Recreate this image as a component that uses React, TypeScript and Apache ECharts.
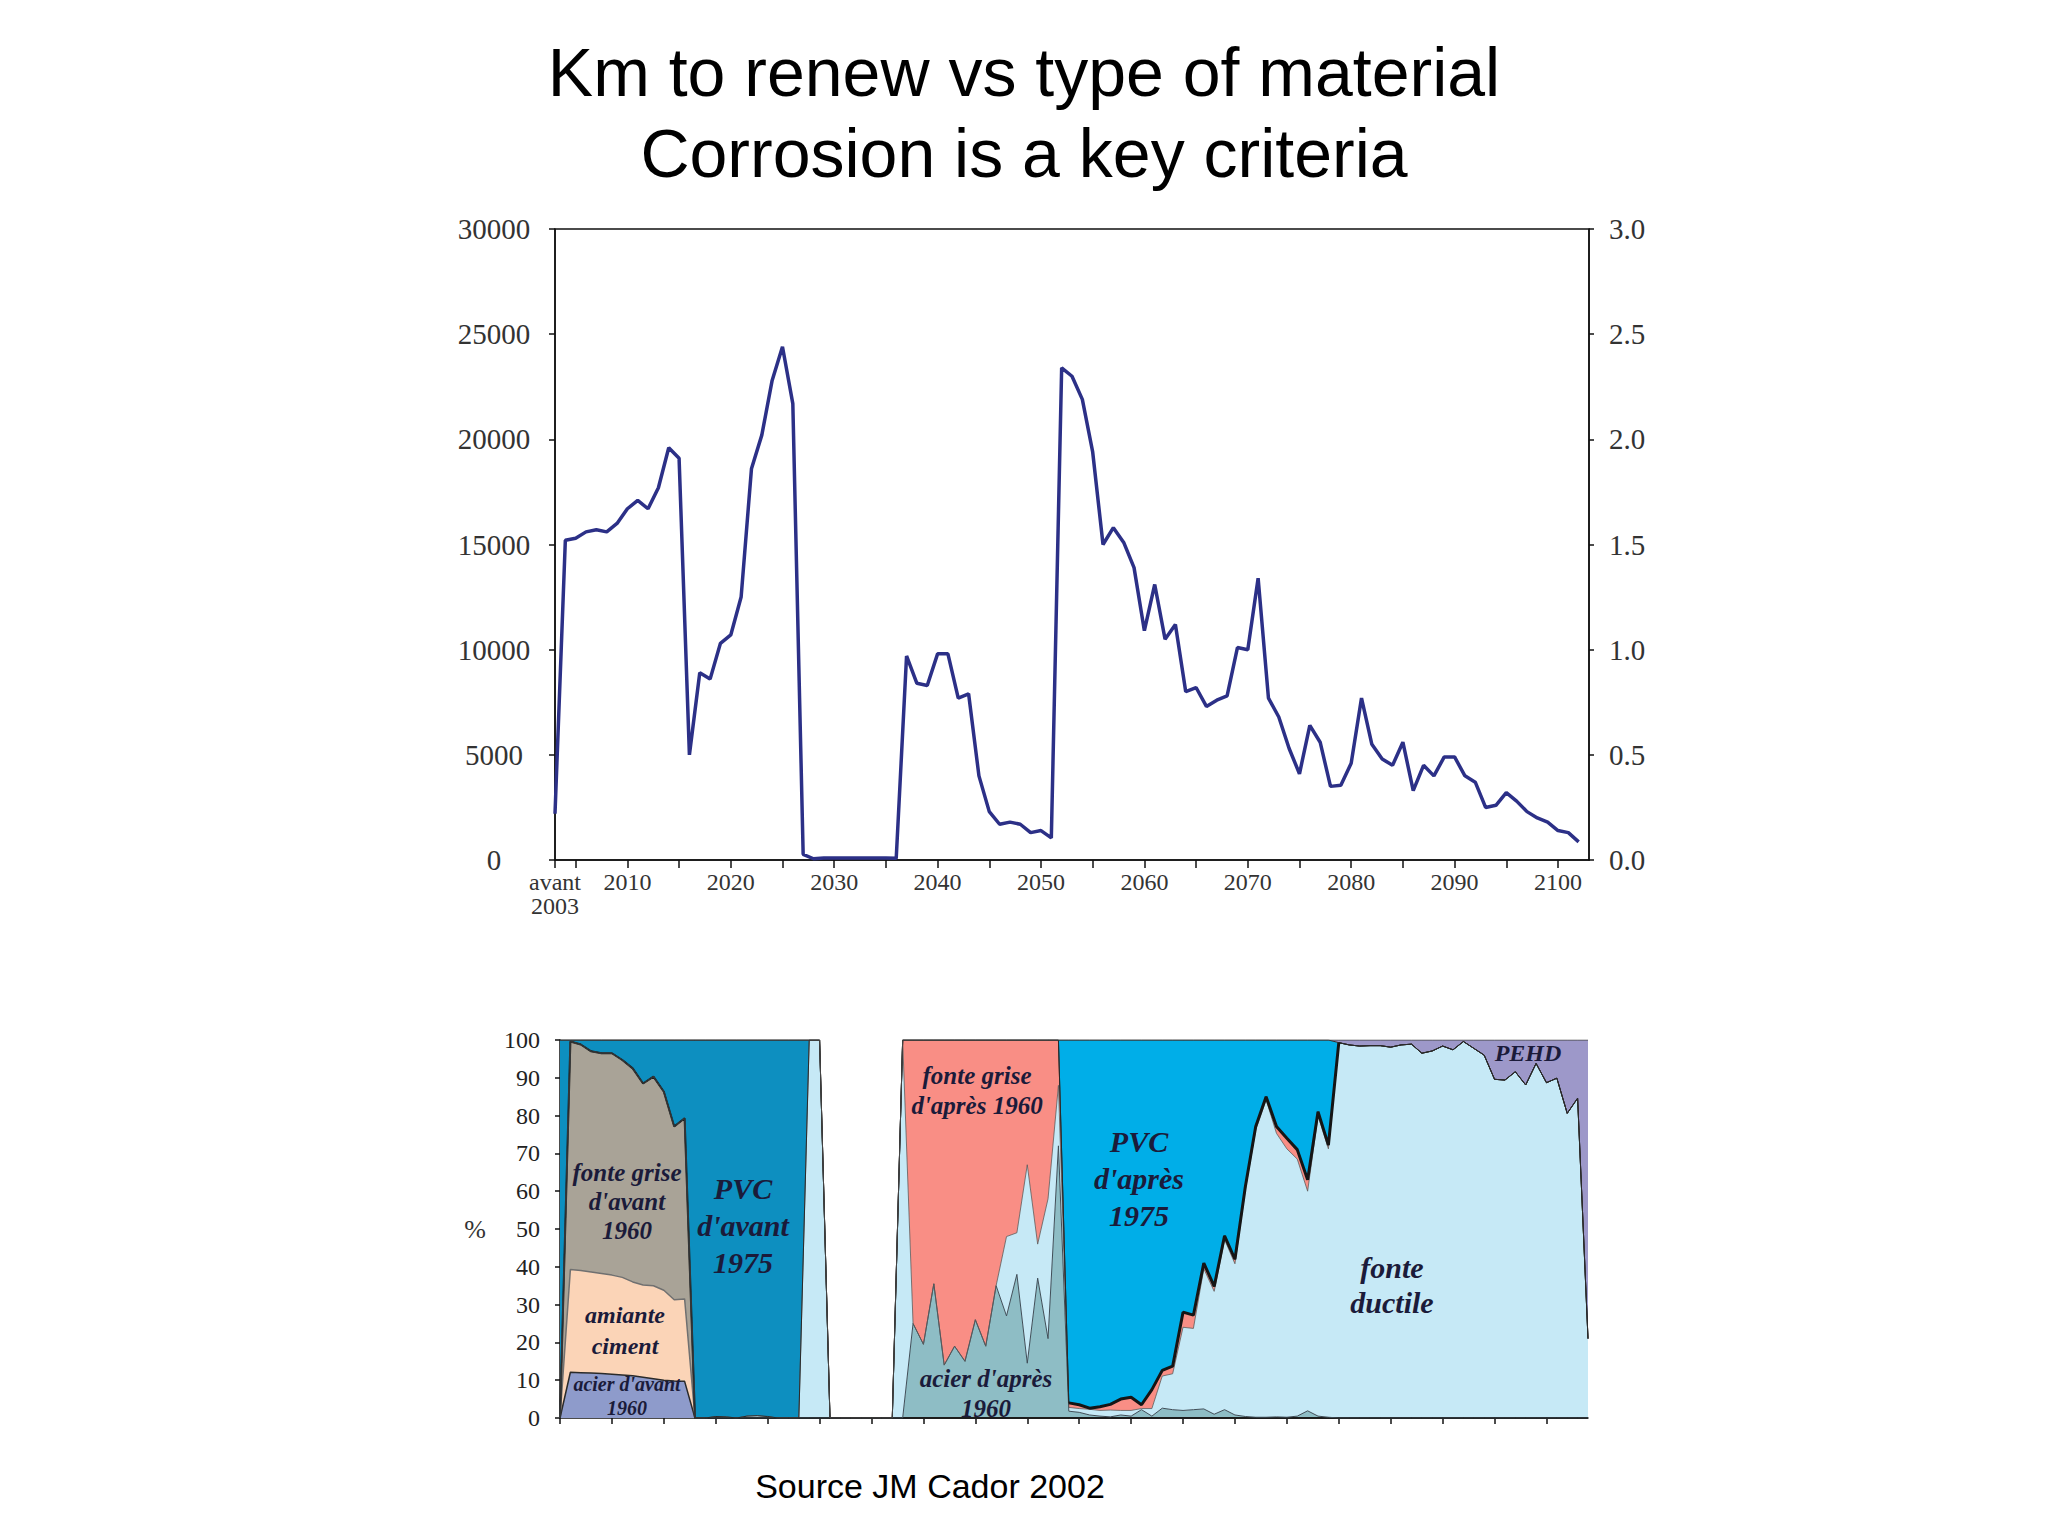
import React, { useEffect, useRef } from "react";
import * as echarts from "echarts";

// Years 2003 .. 2102 (first one is labelled "avant 2003")
const years: string[] = Array.from({ length: 100 }, (_, i) => String(2003 + i));
// the upper chart's axis runs a little past the last year
const upperAxisYears: string[] = [...years, "2103"];

// Km of pipes to renew each year
const kmToRenew: number[] = [
  2200, 15200, 15300, 15600, 15700, 15600, 16000, 16700, 17100, 16700,
  17700, 19600, 19100, 5000, 8900, 8600, 10300, 10700, 12500, 18600,
  20200, 22800, 24400, 21700, 270, 60, 100, 100, 100, 100,
  100, 100, 100, 80, 9700, 8400, 8300, 9800, 9800, 7700,
  7900, 4000, 2300, 1700, 1800, 1700, 1300, 1400, 1050, 23400,
  23000, 21900, 19400, 15000, 15800, 15100, 13900, 10900, 13100, 10500,
  11200, 8000, 8200, 7300, 7600, 7800, 10100, 10000, 13400, 7700,
  6800, 5300, 4100, 6400, 5600, 3500, 3550, 4600, 7700, 5500,
  4800, 4500, 5600, 3300, 4500, 4000, 4900, 4900, 4000, 3700,
  2500, 2600, 3200, 2800, 2300, 2000, 1800, 1400, 1300, 860,
];

// Share of each material (%) in the km renewed each year
const acierAvant1960: number[] = [
  0, 12.1, 12.0, 11.9, 11.8, 11.6, 11.4, 11.2, 10.8, 10.4,
  10.0, 9.8, 9.7, 0, 0, 0, 0, 0, 0, 0,
  0, 0, 0, 0, 0, 0, 0, 0, 0, 0,
  0, 0, 0, 0, 0, 0, 0, 0, 0, 0,
  0, 0, 0, 0, 0, 0, 0, 0, 0, 0,
  0, 0, 0, 0, 0, 0, 0, 0, 0, 0,
  0, 0, 0, 0, 0, 0, 0, 0, 0, 0,
  0, 0, 0, 0, 0, 0, 0, 0, 0, 0,
  0, 0, 0, 0, 0, 0, 0, 0, 0, 0,
  0, 0, 0, 0, 0, 0, 0, 0, 0, 0,
];
const amianteCiment: number[] = [
  0, 27.2, 27.0, 26.7, 26.4, 26.2, 25.8, 24.8, 24.4, 24.6,
  23.8, 21.5, 21.8, 0, 0, 0, 0, 0, 0, 0,
  0, 0, 0, 0, 0, 0, 0, 0, 0, 0,
  0, 0, 0, 0, 0, 0, 0, 0, 0, 0,
  0, 0, 0, 0, 0, 0, 0, 0, 0, 0,
  0, 0, 0, 0, 0, 0, 0, 0, 0, 0,
  0, 0, 0, 0, 0, 0, 0, 0, 0, 0,
  0, 0, 0, 0, 0, 0, 0, 0, 0, 0,
  0, 0, 0, 0, 0, 0, 0, 0, 0, 0,
  0, 0, 0, 0, 0, 0, 0, 0, 0, 0,
];
const fonteGriseAvant1960: number[] = [
  0, 60.3, 59.8, 58.4, 58.3, 58.7, 57.5, 56.5, 53.3, 55.3,
  52.5, 45.8, 47.8, 0, 0, 0, 0, 0, 0, 0,
  0, 0, 0, 0, 0, 0, 0, 0, 0, 0,
  0, 0, 0, 0, 0, 0, 0, 0, 0, 0,
  0, 0, 0, 0, 0, 0, 0, 0, 0, 0,
  0, 0, 0, 0, 0, 0, 0, 0, 0, 0,
  0, 0, 0, 0, 0, 0, 0, 0, 0, 0,
  0, 0, 0, 0, 0, 0, 0, 0, 0, 0,
  0, 0, 0, 0, 0, 0, 0, 0, 0, 0,
  0, 0, 0, 0, 0, 0, 0, 0, 0, 0,
];
const acierApres1960: number[] = [
  0, 0, 0, 0, 0, 0, 0, 0, 0, 0,
  0, 0, 0, 0, 0, 0, 0, 0, 0, 0,
  0, 0, 0, 0, 0, 0, 0, 0, 0, 0,
  0, 0, 0, 0, 25, 19.5, 35.5, 14, 19, 15,
  26, 19, 35, 27, 38, 14.5, 37, 21, 72, 1.8,
  1.5, 0.8, 0.5, 0.3, 0.8, 0.5, 2.2, 0.5, 2.6, 2.2,
  2.0, 2.2, 2.4, 1.0, 2.2, 0.8, 0.4, 0.2, 0.2, 0.3,
  0.2, 0.5, 1.9, 0.5, 0.2, 0, 0, 0, 0, 0,
  0, 0, 0, 0, 0, 0, 0, 0, 0, 0,
  0, 0, 0, 0, 0, 0, 0, 0, 0, 0,
];
const fonteDuctile: number[] = [
  0, 0, 0, 0, 0, 0, 0, 0, 0, 0,
  0, 0, 0, 0, 0, 0.4, 0.3, 0, 0.5, 0.6,
  0.4, 0, 0, 0, 100, 100, 0, 0, 0, 0,
  0, 0, 0, 100, 0, 0, 0, 0, 0, 0,
  0, 0, 0, 21, 11, 52.5, 9, 37, 16, 1.0,
  1.0, 1.5, 1.5, 1.8, 1.2, 1.5, 0.3, 2.0, 8.5, 9.5,
  22.0, 21.5, 37.1, 32.5, 45.0, 40.0, 60.0, 76.0, 84.0, 75.0,
  71.0, 68.0, 58.1, 79.5, 71.0, 99.3, 98.7, 98.4, 98.5, 98.5,
  98.1, 98.7, 98.9, 96.5, 97.1, 98.4, 97.4, 99.6, 97.8, 96.0,
  89.6, 89.4, 91.6, 88.1, 93.8, 88.7, 89.9, 80.6, 84.6, 21.0,
];
const fonteGriseApres1960: number[] = [
  0, 0, 0, 0, 0, 0, 0, 0, 0, 0,
  0, 0, 0, 0, 0, 0, 0, 0, 0, 0,
  0, 0, 0, 0, 0, 0, 0, 0, 0, 0,
  0, 0, 0, 0, 75, 80.5, 64.5, 86, 81, 85,
  74, 81, 65, 52, 51, 33, 54, 42, 12, 1.2,
  1.0, 0.3, 1.0, 1.5, 3.0, 3.5, 1.0, 5.0, 1.5, 2.0,
  4.0, 3.5, 1.5, 1.3, 1.0, 1.2, 0.8, 0.9, 0.8, 1.8,
  2.8, 2.5, 3.0, 1.0, 1.0, 0, 0, 0, 0, 0,
  0, 0, 0, 0, 0, 0, 0, 0, 0, 0,
  0, 0, 0, 0, 0, 0, 0, 0, 0, 0,
];
const pvcAvant1975: number[] = [
  100, 0.4, 1.2, 3.0, 3.5, 3.5, 5.3, 7.5, 11.5, 9.7,
  13.7, 22.9, 20.7, 100, 100, 99.6, 99.7, 100, 99.5, 99.4,
  99.6, 100, 100, 100, 0, 0, 0, 0, 0, 0,
  0, 0, 0, 0, 0, 0, 0, 0, 0, 0,
  0, 0, 0, 0, 0, 0, 0, 0, 0, 0,
  0, 0, 0, 0, 0, 0, 0, 0, 0, 0,
  0, 0, 0, 0, 0, 0, 0, 0, 0, 0,
  0, 0, 0, 0, 0, 0, 0, 0, 0, 0,
  0, 0, 0, 0, 0, 0, 0, 0, 0, 0,
  0, 0, 0, 0, 0, 0, 0, 0, 0, 0,
];
const pvcApres1975: number[] = [
  0, 0, 0, 0, 0, 0, 0, 0, 0, 0,
  0, 0, 0, 0, 0, 0, 0, 0, 0, 0,
  0, 0, 0, 0, 0, 0, 0, 0, 0, 0,
  0, 0, 0, 0, 0, 0, 0, 0, 0, 0,
  0, 0, 0, 0, 0, 0, 0, 0, 0, 96.0,
  96.5, 97.4, 97.0, 96.4, 95.0, 94.5, 96.5, 92.5, 87.4, 86.3,
  72.0, 72.8, 59.0, 65.2, 51.8, 58.0, 38.8, 22.9, 15.0, 22.9,
  26.0, 29.0, 37.0, 19.0, 27.8, 0, 0, 0, 0, 0,
  0, 0, 0, 0, 0, 0, 0, 0, 0, 0,
  0, 0, 0, 0, 0, 0, 0, 0, 0, 0,
];
const pehd: number[] = [
  0, 0, 0, 0, 0, 0, 0, 0, 0, 0,
  0, 0, 0, 0, 0, 0, 0, 0, 0, 0,
  0, 0, 0, 0, 0, 0, 0, 0, 0, 0,
  0, 0, 0, 0, 0, 0, 0, 0, 0, 0,
  0, 0, 0, 0, 0, 0, 0, 0, 0, 0,
  0, 0, 0, 0, 0, 0, 0, 0, 0, 0,
  0, 0, 0, 0, 0, 0, 0, 0, 0, 0,
  0, 0, 0, 0, 0, 0.7, 1.3, 1.6, 1.5, 1.5,
  1.9, 1.3, 1.1, 3.5, 2.9, 1.6, 2.6, 0.4, 2.2, 4.0,
  10.4, 10.6, 8.4, 11.9, 6.2, 11.3, 10.1, 19.4, 15.4, 79.0,
];

const leftTicks = [0, 5000, 10000, 15000, 20000, 25000, 30000];
const rightTicks = [0, 0.5, 1, 1.5, 2, 2.5, 3];
const pctTicks = [0, 10, 20, 30, 40, 50, 60, 70, 80, 90, 100];

// Material layers, bottom to top of the stack
const materials = [
  { name: "acier d'avant 1960", data: acierAvant1960, color: "#8e9bcb", line: "#2a2a2a", width: 1.5 },
  { name: "amiante ciment", data: amianteCiment, color: "#fbd4b7", line: "#707070", width: 1.5 },
  { name: "fonte grise d'avant 1960", data: fonteGriseAvant1960, color: "#a9a397", line: "#1c1c1c", width: 2 },
  { name: "acier d'après 1960", data: acierApres1960, color: "#8ebdc5", line: "#3f4d57", width: 1 },
  { name: "fonte ductile", data: fonteDuctile, color: "#c6e9f6", line: "#5a5a5a", width: 0.8 },
  { name: "fonte grise d'après 1960", data: fonteGriseApres1960, color: "#f98e85", line: "#2a2a2a", width: 1 },
  { name: "PVC d'avant 1975", data: pvcAvant1975, color: "#0d8fc0", line: "#2a2a2a", width: 1 },
  { name: "PVC d'après 1975", data: pvcApres1975, color: "#00aee8", line: "#2a2a2a", width: 1 },
  { name: "PEHD", data: pehd, color: "#9d98c9", line: "#444444", width: 1 },
];

const SERIF = '"Liberation Serif", "Times New Roman", serif';
const SANS = '"Liberation Sans", Arial, sans-serif';

// Dark edge under the PVC d'après 1975 layer
const pvcApresEdge = years.map((_, i) =>
  pvcApres1975[i] > 0
    ? acierApres1960[i] + fonteDuctile[i] + fonteGriseApres1960[i]
    : i > 0 && pvcApres1975[i - 1] > 0
    ? 100 - pehd[i]
    : null
);

function areaLabel(text: string, x: number, y: number, size: number, lineHeight: number) {
  return {
    type: "text",
    x,
    y,
    z: 100,
    style: {
      text,
      font: `italic bold ${size}px ${SERIF}`,
      fill: "#1b1b3a",
      textAlign: "center",
      textVerticalAlign: "middle",
      lineHeight,
    },
  };
}

export default function App() {
  const ref = useRef<HTMLDivElement>(null);

  useEffect(() => {
    if (!ref.current) return;
    const chart = echarts.init(ref.current, undefined, { renderer: "svg" });

    const option: any = {
      animation: false,
      backgroundColor: "#ffffff",
      grid: [
        { left: 555, top: 229, width: 1034, height: 631, show: true, borderColor: "#111", borderWidth: 1.5, backgroundColor: "transparent" },
        { left: 560, top: 1040, width: 1028, height: 378 },
      ],
      xAxis: [
        {
          type: "category",
          gridIndex: 0,
          data: upperAxisYears,
          boundaryGap: false,
          axisLine: { lineStyle: { color: "#111", width: 1.5 } },
          axisTick: {
            length: 8,
            lineStyle: { color: "#111", width: 1.5 },
            interval: (i: number, v: string) => i === 0 || (Number(v) % 5 === 0 && Number(v) <= 2100),
          },
          axisLabel: {
            interval: (i: number, v: string) => i === 0 || Number(v) % 10 === 0,
            formatter: (v: string, i: number) => (i === 0 ? "avant\n2003" : v),
            fontFamily: SERIF,
            fontSize: 24,
            lineHeight: 24,
            color: "#333",
            margin: 10,
          },
          splitLine: { show: false },
        },
        {
          type: "category",
          gridIndex: 1,
          data: years,
          boundaryGap: false,
          axisLine: { lineStyle: { color: "#111", width: 1.5 } },
          axisTick: {
            length: 6,
            lineStyle: { color: "#111", width: 1.5 },
            interval: (i: number) => i % 5 === 0,
          },
          axisLabel: { show: false },
          splitLine: { show: false },
        },
      ],
      yAxis: [
        {
          type: "value",
          gridIndex: 0,
          min: leftTicks[0],
          max: leftTicks[leftTicks.length - 1],
          interval: 5000,
          axisLine: { show: true, lineStyle: { color: "#111", width: 1.5 } },
          axisTick: { show: true, length: 6, lineStyle: { color: "#111", width: 1.5 } },
          axisLabel: {
            formatter: (v: number) => String(v),
            fontFamily: SERIF,
            fontSize: 29,
            color: "#333",
            align: "center",
            margin: 61,
          },
          splitLine: { show: false },
        },
        {
          type: "value",
          gridIndex: 0,
          position: "right",
          min: rightTicks[0],
          max: rightTicks[rightTicks.length - 1],
          interval: 0.5,
          axisLine: { show: true, lineStyle: { color: "#111", width: 1.5 } },
          axisTick: { show: true, length: 5, lineStyle: { color: "#111", width: 1.5 } },
          axisLabel: { formatter: (v: number) => v.toFixed(1), fontFamily: SERIF, fontSize: 29, color: "#333", margin: 20 },
          splitLine: { show: false },
        },
        {
          type: "value",
          gridIndex: 1,
          min: pctTicks[0],
          max: pctTicks[pctTicks.length - 1],
          interval: 10,
          axisLine: { show: true, lineStyle: { color: "#111", width: 1.5 } },
          axisTick: { show: true, length: 5, lineStyle: { color: "#111", width: 1.5 } },
          axisLabel: { fontFamily: SERIF, fontSize: 24, color: "#222", margin: 20 },
          splitLine: { show: false },
        },
      ],
      series: [
        {
          name: "Km to renew",
          type: "line",
          xAxisIndex: 0,
          yAxisIndex: 0,
          data: [...kmToRenew, null],
          symbol: "none",
          lineStyle: { color: "#2c3087", width: 3.5 },
          z: 5,
        },
        ...materials.map((m) => ({
          name: m.name,
          type: "line",
          xAxisIndex: 1,
          yAxisIndex: 2,
          stack: "materials",
          data: m.data,
          symbol: "none",
          lineStyle: { color: m.line, width: m.width },
          areaStyle: { color: m.color, opacity: 1 },
        })),
        {
          name: "edge",
          type: "line",
          xAxisIndex: 1,
          yAxisIndex: 2,
          data: pvcApresEdge,
          symbol: "none",
          connectNulls: false,
          lineStyle: { color: "#151515", width: 3 },
          z: 4,
        },
      ],
      graphic: [
        {
          type: "text",
          x: 1024,
          y: 72,
          style: { text: "Km to renew vs type of material", font: `68px ${SANS}`, fill: "#000", textAlign: "center", textVerticalAlign: "middle" },
        },
        {
          type: "text",
          x: 1024,
          y: 153,
          style: { text: "Corrosion is a key criteria", font: `68px ${SANS}`, fill: "#000", textAlign: "center", textVerticalAlign: "middle" },
        },
        {
          type: "text",
          x: 930,
          y: 1486,
          style: { text: "Source JM Cador 2002", font: `34px ${SANS}`, fill: "#000", textAlign: "center", textVerticalAlign: "middle" },
        },
        {
          type: "text",
          x: 475,
          y: 1229,
          style: { text: "%", font: `26px ${SERIF}`, fill: "#333", textAlign: "center", textVerticalAlign: "middle" },
        },
        areaLabel("fonte grise\nd'avant\n1960", 627, 1201, 25, 29),
        areaLabel("amiante\nciment", 625, 1330, 24, 31),
        areaLabel("acier d'avant\n1960", 627, 1396, 20, 24),
        areaLabel("PVC\nd'avant\n1975", 743, 1225, 30, 37),
        areaLabel("fonte grise\nd'après 1960", 977, 1090, 25, 30),
        areaLabel("acier d'après\n1960", 986, 1393, 25, 30),
        areaLabel("PVC\nd'après\n1975", 1139, 1178, 30, 37),
        areaLabel("fonte\nductile", 1392, 1285, 30, 35),
        areaLabel("PEHD", 1528, 1053, 24, 24),
      ],
    };

    chart.setOption(option);
    return () => chart.dispose();
  }, []);

  return (
    <div
      ref={ref}
      style={{ position: "absolute", left: 0, top: 0, width: 2048, height: 1536, background: "#fff" }}
    />
  );
}
